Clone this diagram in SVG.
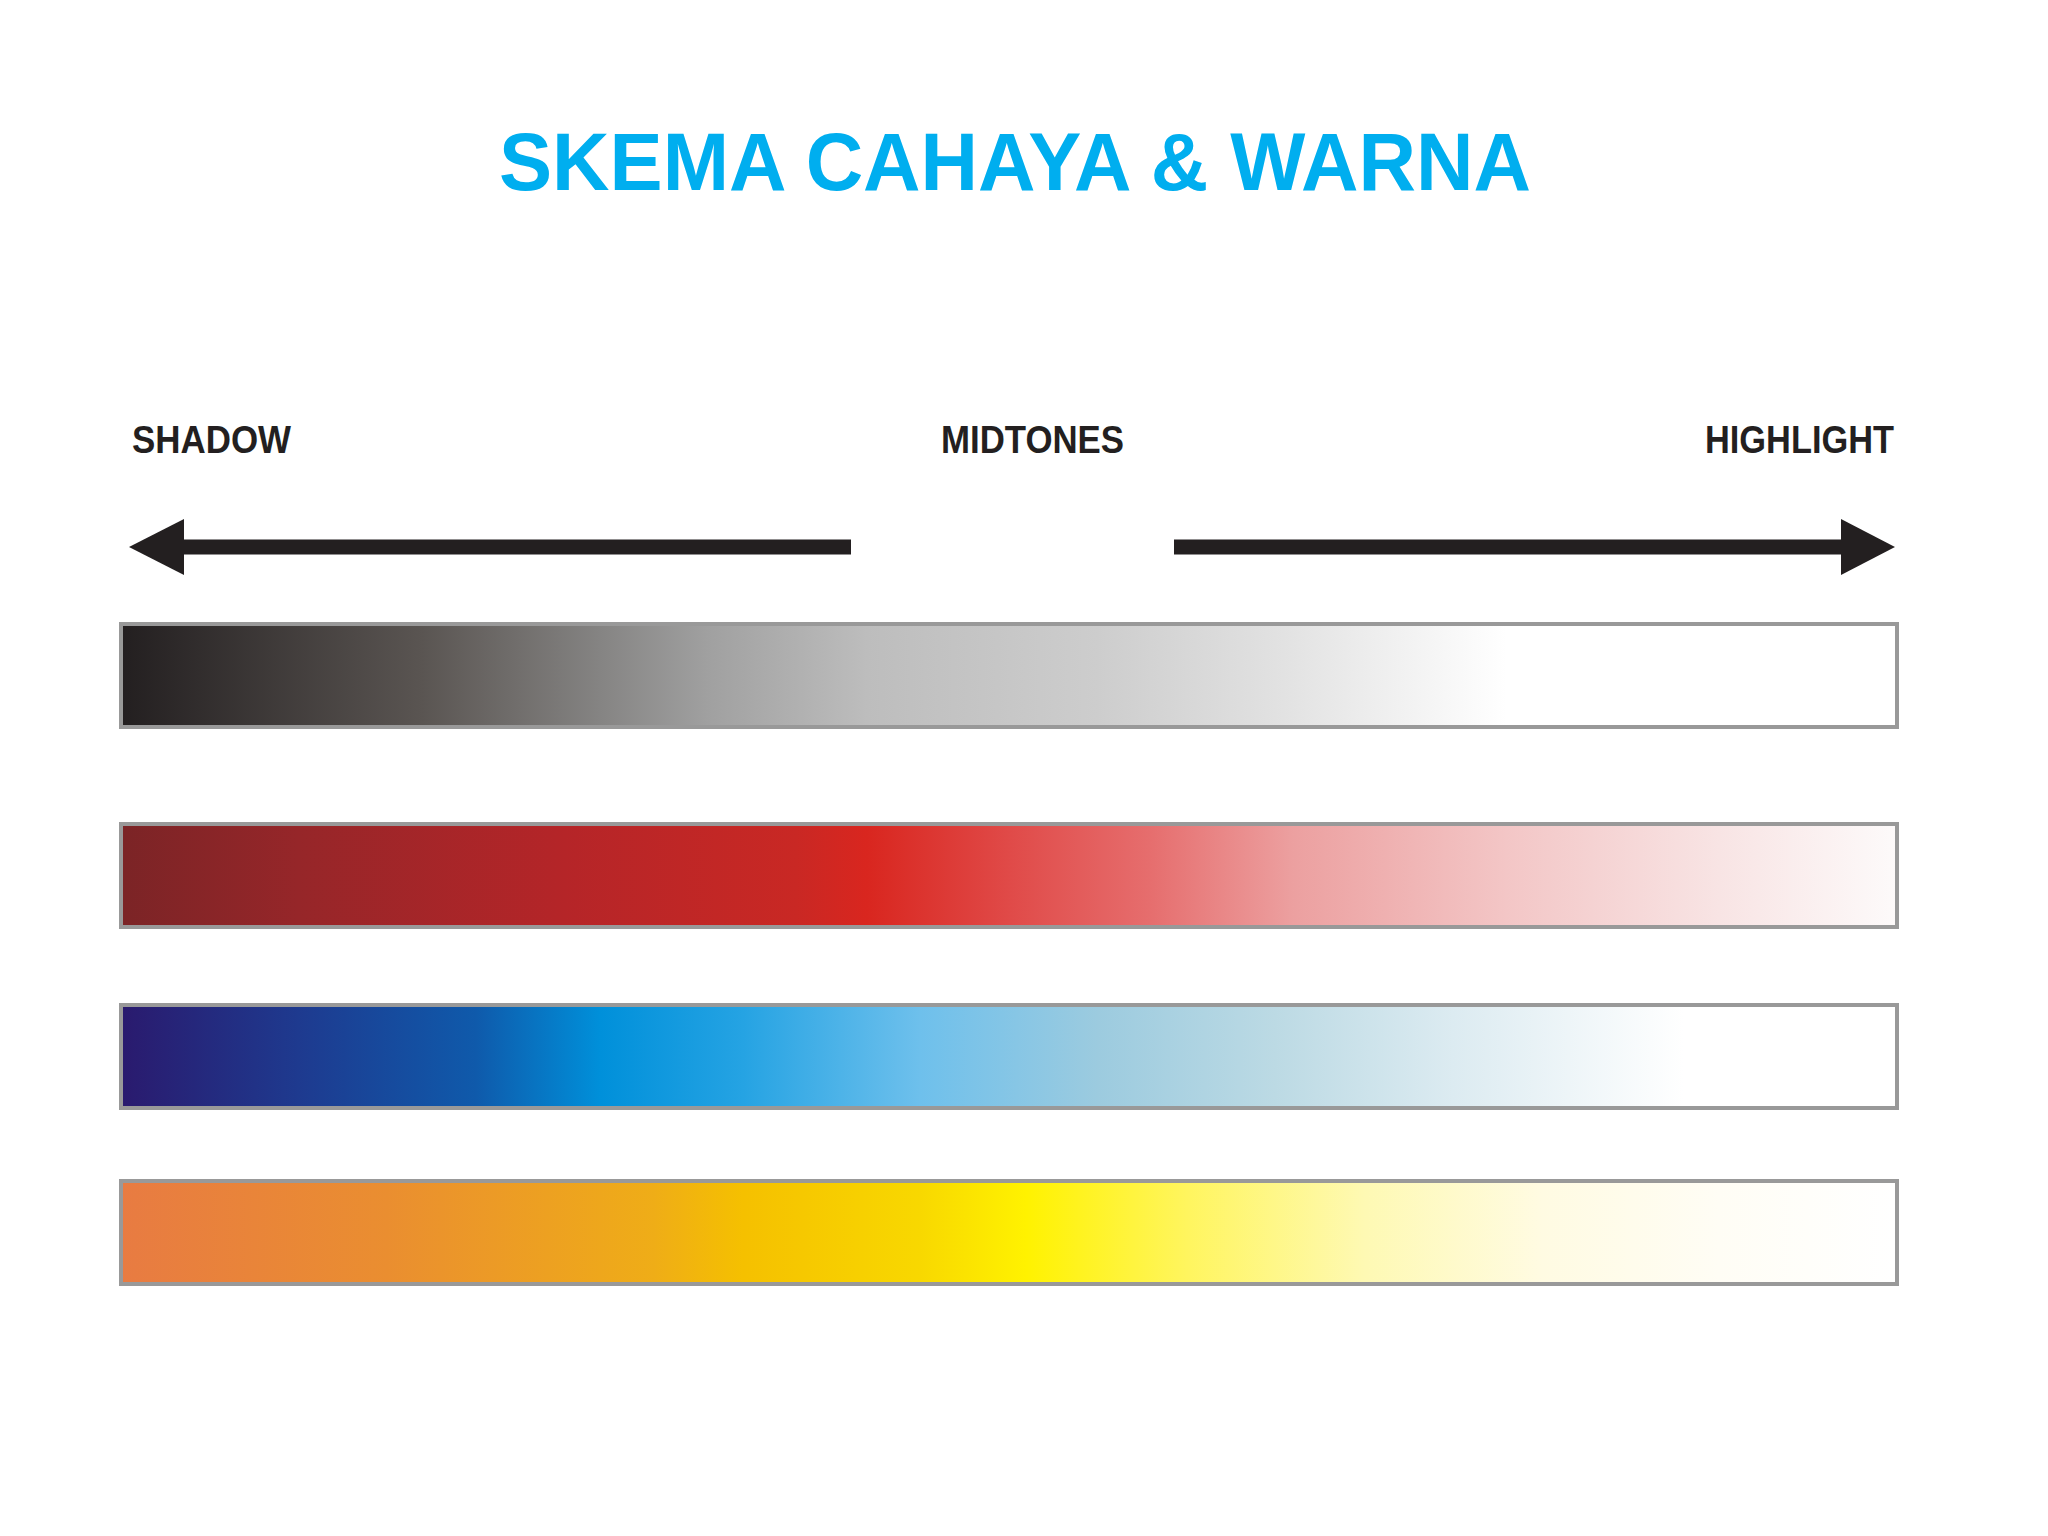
<svg xmlns="http://www.w3.org/2000/svg" width="2048" height="1536" viewBox="0 0 2048 1536">
<defs>
<style>
.title{font-family:"Liberation Sans",Arial,sans-serif;font-weight:bold;font-size:82px;fill:#00aeef}
.lbl{font-family:"Liberation Sans",Arial,sans-serif;font-weight:bold;font-size:38px;fill:#231f20}
.bar{stroke:#999999;stroke-width:4}
.shaft{stroke:#231f20;stroke-width:15;fill:none}
.head{fill:#231f20}
</style>
<linearGradient id="gGray" x1="0" y1="0" x2="1" y2="0">
<stop offset="0" stop-color="#231f20"/>
<stop offset="0.17" stop-color="#5a5552"/>
<stop offset="0.27" stop-color="#858483"/>
<stop offset="0.33" stop-color="#a0a0a0"/>
<stop offset="0.42" stop-color="#bdbdbd"/>
<stop offset="0.55" stop-color="#cdcdcd"/>
<stop offset="0.65" stop-color="#e1e1e1"/>
<stop offset="0.72" stop-color="#f1f1f1"/>
<stop offset="0.78" stop-color="#ffffff"/>
<stop offset="1" stop-color="#ffffff"/>
</linearGradient>
<linearGradient id="gRed" x1="0" y1="0" x2="1" y2="0">
<stop offset="0" stop-color="#7b2426"/>
<stop offset="0.1" stop-color="#962629"/>
<stop offset="0.25" stop-color="#b52528"/>
<stop offset="0.38" stop-color="#c92824"/>
<stop offset="0.42" stop-color="#d9261f"/>
<stop offset="0.5" stop-color="#e04a48"/>
<stop offset="0.58" stop-color="#e66e6e"/>
<stop offset="0.66" stop-color="#eca0a0"/>
<stop offset="0.78" stop-color="#f3c6c6"/>
<stop offset="0.9" stop-color="#f8e4e4"/>
<stop offset="1" stop-color="#fdfafa"/>
</linearGradient>
<linearGradient id="gBlue" x1="0" y1="0" x2="1" y2="0">
<stop offset="0" stop-color="#2a1a6e"/>
<stop offset="0.1" stop-color="#1e3a8f"/>
<stop offset="0.2" stop-color="#0f5aab"/>
<stop offset="0.27" stop-color="#0090da"/>
<stop offset="0.35" stop-color="#25a3e3"/>
<stop offset="0.45" stop-color="#6ec0ec"/>
<stop offset="0.55" stop-color="#9ccbdf"/>
<stop offset="0.65" stop-color="#bcdae4"/>
<stop offset="0.75" stop-color="#dcebf1"/>
<stop offset="0.88" stop-color="#ffffff"/>
<stop offset="1" stop-color="#ffffff"/>
</linearGradient>
<linearGradient id="gYellow" x1="0" y1="0" x2="1" y2="0">
<stop offset="0" stop-color="#e87b42"/>
<stop offset="0.15" stop-color="#ea8e30"/>
<stop offset="0.3" stop-color="#efad17"/>
<stop offset="0.35" stop-color="#f5c000"/>
<stop offset="0.45" stop-color="#f8d800"/>
<stop offset="0.51" stop-color="#fff200"/>
<stop offset="0.6" stop-color="#fff55e"/>
<stop offset="0.7" stop-color="#fef9b3"/>
<stop offset="0.8" stop-color="#fffbe2"/>
<stop offset="0.9" stop-color="#fffdf5"/>
<stop offset="1" stop-color="#ffffff"/>
</linearGradient>
</defs>
<rect width="2048" height="1536" fill="#ffffff"/>
<g id="title">
<text class="title" x="1015" y="190" text-anchor="middle" textLength="1032" lengthAdjust="spacingAndGlyphs">SKEMA CAHAYA &amp; WARNA</text>
</g>
<g id="label-shadow"><text class="lbl" x="132" y="453" textLength="159" lengthAdjust="spacingAndGlyphs">SHADOW</text></g>
<g id="label-midtones"><text class="lbl" x="941" y="453" textLength="183" lengthAdjust="spacingAndGlyphs">MIDTONES</text></g>
<g id="label-highlight"><text class="lbl" x="1705" y="453" textLength="189" lengthAdjust="spacingAndGlyphs">HIGHLIGHT</text></g>
<g id="connectors">
<line class="shaft" x1="180" y1="547" x2="851" y2="547"/>
<polygon class="head" points="129,547 184,519 184,575"/>
<line class="shaft" x1="1174" y1="547" x2="1845" y2="547"/>
<polygon class="head" points="1895,547 1841,519 1841,575"/>
</g>
<g id="bar-gray"><rect class="bar" x="121" y="624" width="1776" height="103" fill="url(#gGray)"/></g>
<g id="bar-red"><rect class="bar" x="121" y="824" width="1776" height="103" fill="url(#gRed)"/></g>
<g id="bar-blue"><rect class="bar" x="121" y="1005" width="1776" height="103" fill="url(#gBlue)"/></g>
<g id="bar-yellow"><rect class="bar" x="121" y="1181" width="1776" height="103" fill="url(#gYellow)"/></g>
</svg>
